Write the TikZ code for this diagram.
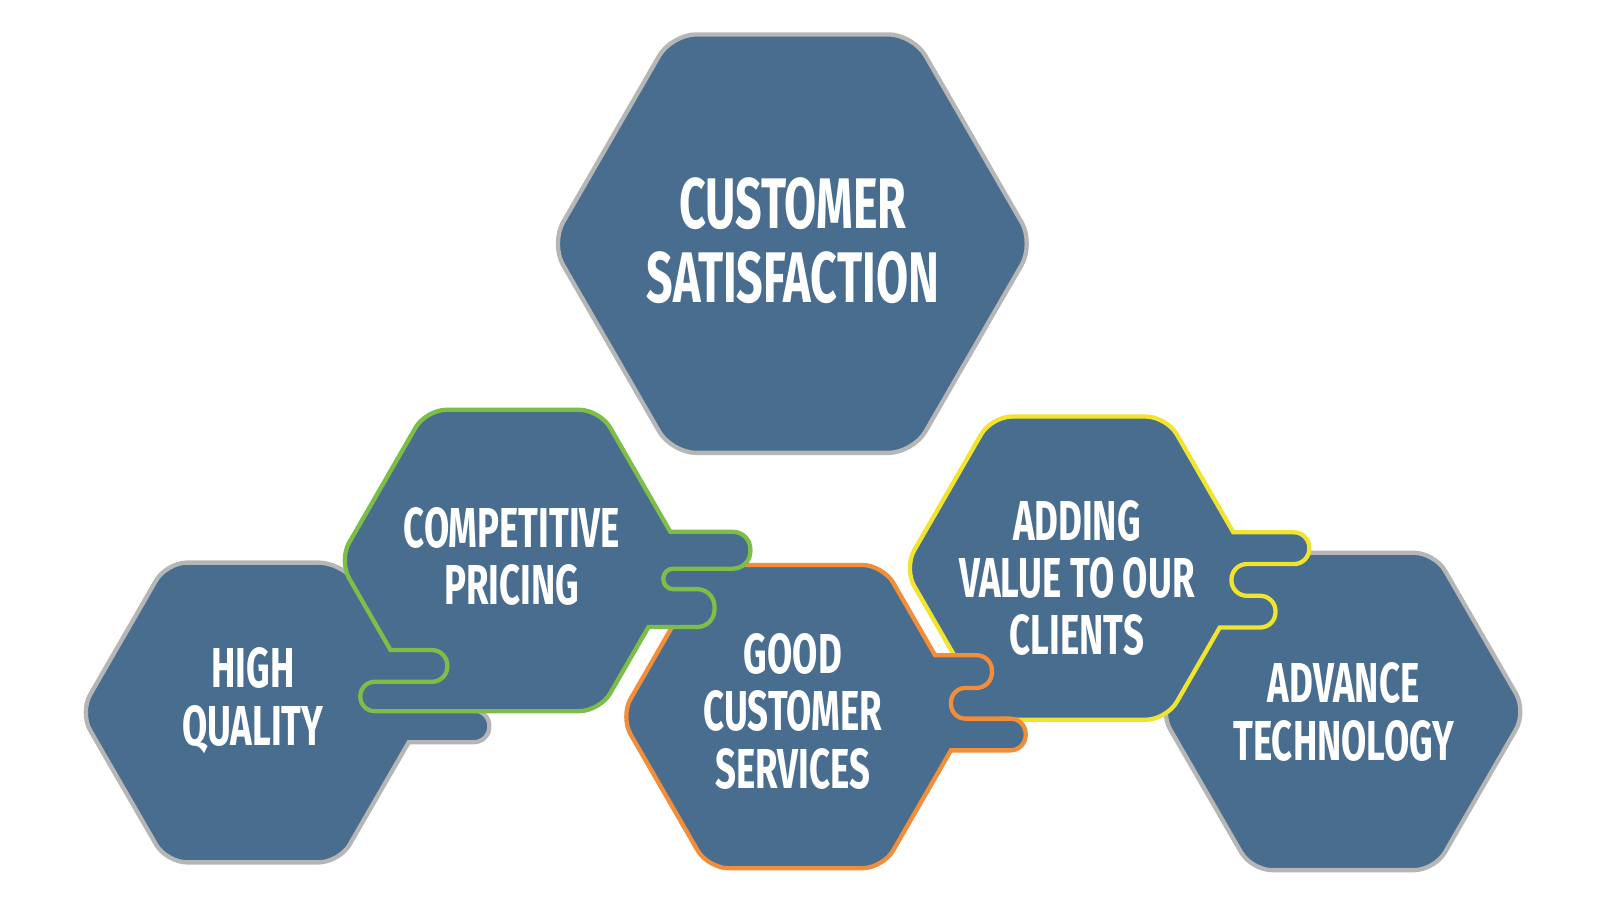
\documentclass[tikz,border=0pt]{standalone}
\usepackage{fontspec}
\newfontfamily\hexfont[FakeStretch=0.65]{Fira Sans}
\usepackage{tikz}
\definecolor{hexblue}{RGB}{72,109,142}
\definecolor{rimgray}{RGB}{182,182,182}
\definecolor{rimgreen}{RGB}{124,190,72}
\definecolor{rimorange}{RGB}{242,141,58}
\definecolor{rimyellow}{RGB}{240,228,46}

\begin{document}
\begin{tikzpicture}[x=1pt,y=-1pt,
	piece/.style={fill=hexblue, line width=4.2pt, rounded corners=20pt},
	patch/.style={fill=hexblue},
	word/.style={text=white, align=center, inner sep=0pt, font=\hexfont\bfseries\fontsize{55}{56}\selectfont}]
\useasboundingbox (0,0) rectangle (1563,879);

\filldraw[piece, draw=rimgray, rounded corners=24pt] (774,33.6) -- (892,33.6) -- (1010,238) -- (892,442.4) -- (656,442.4) -- (538,238) -- (656,33.6) -- cycle;

\filldraw[piece, draw=rimgray] (247,549.6) -- (331.5,549.6) [sharp corners] -- (400,630) -- (450,630) -- (450,694) [rounded corners=15pt] -- (478,694) -- (478,725) [sharp corners] -- (399.3,725) [rounded corners=20pt] -- (331.5,842.4) -- (162.5,842.4) -- (78,696) -- (162.5,549.6) -- cycle;

\filldraw[piece, draw=rimgray] (1312,540) -- (1401.5,540) -- (1491,695) -- (1401.5,850) -- (1222.5,850) -- (1133,695) -- (1222.5,540) -- cycle;

\fill[patch] (1198,549) rectangle (1250,584);
\filldraw[piece, draw=rimyellow] (1054,406.9) -- (1139.5,406.9) [sharp corners] -- (1204.8,520) [rounded corners=15pt] -- (1279,520) -- (1279,551) -- (1203,551) -- (1203,582) -- (1246,582) -- (1246,613) [sharp corners] -- (1191.5,613) [rounded corners=20pt] -- (1139.5,703.1) -- (968.5,703.1) -- (883,555) -- (968.5,406.9) -- cycle;

\fill[patch] (924,670) rectangle (982,704);
\filldraw[piece, draw=rimorange] (777,551.9) -- (862.5,551.9) [sharp corners] -- (913.4,640) [rounded corners=15pt] -- (969,640) -- (969,672) [rounded corners=14pt] -- (929,672) -- (929,702) [rounded corners=15pt] -- (1002,702) -- (1002,733) [sharp corners] -- (928.9,733) [rounded corners=20pt] -- (862.5,848.1) -- (691.5,848.1) -- (606,700) -- (691.5,551.9) -- cycle;

\fill[patch] (644,553) rectangle (702,578);
\filldraw[piece, draw=rimgreen] (501,400.3) -- (586,400.3) [sharp corners] -- (654.8,519.5) [rounded corners=17pt] -- (733,519.5) -- (733,555.5) [rounded corners=9.5pt] -- (648,555.5) -- (648,575.5) [rounded corners=17pt] -- (698,575.5) -- (698,612.5) [sharp corners] -- (633.5,612.5) [rounded corners=20pt] -- (586,694.7) [rounded corners=14pt] -- (352,694.7) -- (352,666) [rounded corners=15pt] -- (437,666) -- (437,635) [sharp corners] -- (381.5,635) [rounded corners=20pt] -- (331,547.5) -- (416,400.3) -- cycle;

\node[word, font=\hexfont\bfseries\fontsize{70}{73}\selectfont] (goal) at (774.5,235) {CUSTOMER\\SATISFACTION};
\node[word] (quality) at (247,684.5) {HIGH\\QUALITY};
\node[word] (pricing) at (500,543.5) {COMPETITIVE\\PRICING};
\node[word] (service) at (774.5,695) {GOOD\\CUSTOMER\\SERVICES};
\node[word] (value) at (1052,564.5) {ADDING\\VALUE TO OUR\\CLIENTS};
\node[word] (advance) at (1312.5,695.5) {ADVANCE\\TECHNOLOGY};
\end{tikzpicture}
\end{document}
